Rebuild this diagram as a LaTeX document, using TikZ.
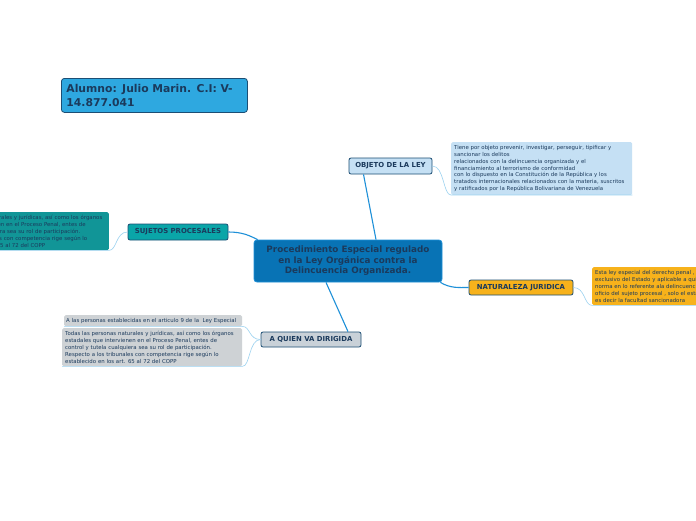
\documentclass[tikz,border=0pt]{standalone}
\usepackage{fontspec}
\setmainfont{DejaVu Sans}
\definecolor{navy}{HTML}{1B3A5C}
\definecolor{rim}{HTML}{1C4E74}
\definecolor{linkblue}{HTML}{1E90D8}
\definecolor{paleblue}{HTML}{9CD2F0}
\definecolor{alumnofill}{HTML}{2EA8E0}
\definecolor{centralfill}{HTML}{0873B5}
\definecolor{objfill}{HTML}{C5E0F4}
\definecolor{tealfill}{HTML}{0AA5A8}
\definecolor{tealnote}{HTML}{119597}
\definecolor{orangefill}{HTML}{F7B21B}
\definecolor{grayfill}{HTML}{C9D1D8}
\definecolor{graynote}{HTML}{CED2D5}
\tikzset{topic/.style={draw=rim,rounded corners=2pt,line width=0.8pt,text=navy,
                       font=\fontsize{6.9}{8}\selectfont\bfseries,inner sep=0pt},
         note/.style={rounded corners=1.5pt,align=left,text=navy,inner sep=3pt,
                      font=\fontsize{5.4}{6.9}\selectfont},
         mainlink/.style={linkblue,line width=1.1pt},
         sublink/.style={paleblue,line width=0.6pt}}

\begin{document}
\begin{tikzpicture}[x=1pt,y=-1pt]
                  \useasboundingbox[fill=white] (0,0) rectangle (696,520);
                  % title and central topic
                  \node[draw=rim,fill=alumnofill,rounded corners=3pt,line width=0.8pt,anchor=north west,
                        minimum width=186pt,minimum height=34pt,text width=176pt,align=left,inner sep=5pt,
                        text=navy,font=\fontsize{10.8}{13.5}\selectfont\bfseries] (alumno) at (61,78)
                        {Alumno: Julio Marin. C.I: V-\\14.877.041};
                  \node[draw=linkblue,fill=centralfill,rounded corners=3pt,line width=0.8pt,
                        minimum width=188pt,minimum height=42pt,align=center,inner sep=2pt,
                        text=navy,font=\fontsize{8.8}{10.6}\selectfont\bfseries] (central) at (348,261)
                        {Procedimiento Especial regulado\\en la Ley Orgánica contra la\\Delincuencia Organizada.};
                  % main topics
                  \node[topic,fill=objfill,minimum width=83pt,minimum height=16pt] (objeto) at (390.5,166) {OBJETO DE LA LEY};
                  \node[topic,fill=tealfill,minimum width=100pt,minimum height=16pt] (sujetos) at (178,232) {SUJETOS PROCESALES};
                  \node[topic,fill=orangefill,minimum width=104pt,minimum height=15pt] (naturaleza) at (521,287.5) {NATURALEZA JURIDICA};
                  \node[topic,fill=grayfill,minimum width=100pt,minimum height=15pt] (quien) at (311,339.5) {A QUIEN VA DIRIGIDA};
                  % notes
                  \node[note,fill=objfill,anchor=north west,text width=175pt,minimum height=49pt] (objnote) at (451,142)
                        {Tiene por objeto prevenir, investigar, perseguir, tipificar y\\sancionar los delitos\\relacionados con la delincuencia organizada y el\\financiamiento al terrorismo de conformidad\\con lo dispuesto en la Constitución de la República y los\\tratados internacionales relacionados con la materia, suscritos\\y ratificados por la República Bolivariana de Venezuela};
                  \node[note,fill=tealnote,anchor=north east,text width=172pt,minimum height=37pt] (sujnote) at (109,212)
                        {Todas las personas naturales y jurídicas, así como los órganos\\estadales que intervienen en el Proceso Penal, entes de\\control y tutela cualquiera sea su rol de participación.\\Respecto a los tribunales con competencia rige según lo\\establecido en los art. 65 al 72 del COPP};
                  \node[note,fill=orangefill,anchor=north west,text width=175pt,minimum height=38pt] (natnote) at (592,267)
                        {Esta ley especial del derecho penal , es de carácter\\exclusivo del Estado y aplicable a quien\\norma en lo referente ala delincuencia\\oficio del sujeto procesal , solo el estado\\es decir la facultad sancionadora};
                  \node[note,fill=graynote,anchor=north west,text width=174pt,minimum height=11pt,inner sep=2pt] (quiennote) at (64,315)
                        {A las personas establecidas en el articulo 9 de la\ \ Ley Especial};
                  \node[note,fill=graynote,anchor=north west,text width=174pt,minimum height=37pt] (quiendetail) at (62,328)
                        {Todas las personas naturales y jurídicas, así como los órganos\\estadales que intervienen en el Proceso Penal, entes de\\control y tutela cualquiera sea su rol de participación.\\Respecto a los tribunales con competencia rige según lo\\establecido en los art. 65 al 72 del COPP};
                  % links to the main topics
                  \draw[mainlink] ([xshift=28pt]central.north) -- ([xshift=-27pt]objeto.south);
                  \draw[mainlink] (sujetos.east) .. controls +(14,0) and +(-8,-4) .. ([xshift=4pt]central.north west);
                  \draw[mainlink] ([xshift=-2pt]central.south east) .. controls +(10,6) and +(-10,0) .. (naturaleza.west);
                  \draw[mainlink] ([xshift=-22pt]central.south) -- ([xshift=37pt]quien.north);
                  % links to the notes
                  \draw[sublink] (objeto.east) .. controls +(12,0) and +(-8,0) .. (objnote.south west) -- (objnote.south east);
                  \draw[sublink] (sujetos.west) .. controls +(-12,0) and +(8,0) .. (sujnote.south east) -- (sujnote.south west);
                  \draw[sublink] (naturaleza.east) .. controls +(12,0) and +(-8,0) .. (natnote.south west) -- (natnote.south east);
                  \draw[sublink] (quien.west) .. controls +(-12,0) and +(8,0) .. (quiennote.south east) -- (quiennote.south west);
                  \draw[sublink] (quien.west) .. controls +(-12,0) and +(8,0) .. (quiendetail.south east) -- (quiendetail.south west);
              \end{tikzpicture}
\end{document}
